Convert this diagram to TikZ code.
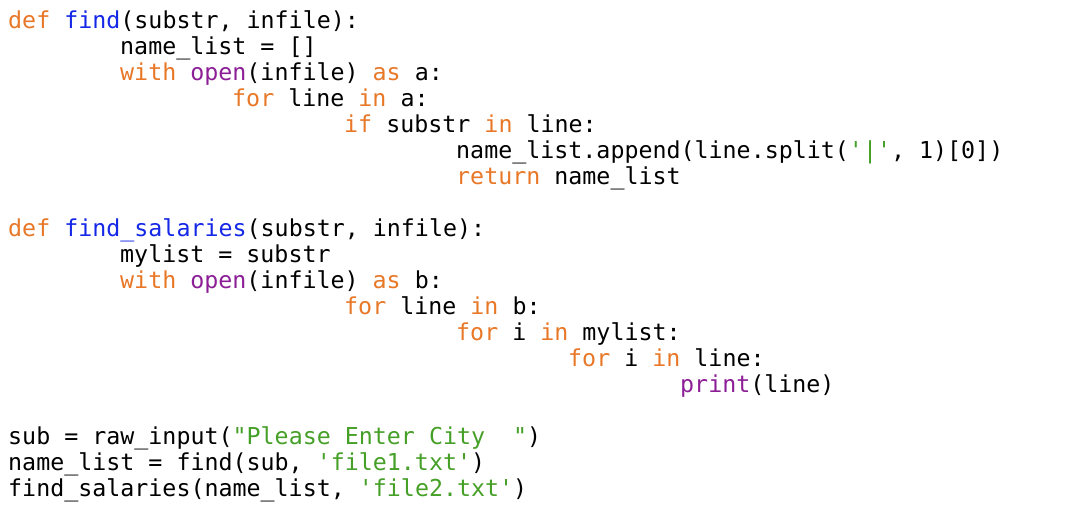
\documentclass[tikz,border=0pt]{standalone}
\usepackage{fontspec}
\newfontfamily\codefont{DejaVu Sans Mono}
\definecolor{kw}{RGB}{232,120,40}
\definecolor{fn}{RGB}{20,40,230}
\definecolor{bi}{RGB}{140,30,150}
\definecolor{st}{RGB}{70,160,40}
\newcommand\K[1]{\textcolor{kw}{#1}}
\newcommand\F[1]{\textcolor{fn}{#1}}
\newcommand\B[1]{\textcolor{bi}{#1}}
\newcommand\Q[1]{\textcolor{st}{#1}}
\begin{document}
\begin{tikzpicture}[x=1pt,y=1pt,
  code/.style={anchor=base west,inner sep=0pt,font=\codefont\fontsize{23.3}{26}\selectfont}]
\useasboundingbox (0,0) rectangle (1070,-530);
\def\L#1#2#3{\node[code] (l#1) at (8+14*#2,-28-26*#1) {#3};}
\L{0}{0}{\K{def} \F{find}(substr, infile):}
\L{1}{8}{name\_list = []}
\L{2}{8}{\K{with} \B{open}(infile) \K{as} a:}
\L{3}{16}{\K{for} line \K{in} a:}
\L{4}{24}{\K{if} substr \K{in} line:}
\L{5}{32}{name\_list.append(line.split(\Q{'|'}, 1)[0])}
\L{6}{32}{\K{return} name\_list}
\L{8}{0}{\K{def} \F{find\_salaries}(substr, infile):}
\L{9}{8}{mylist = substr}
\L{10}{8}{\K{with} \B{open}(infile) \K{as} b:}
\L{11}{24}{\K{for} line \K{in} b:}
\L{12}{32}{\K{for} i \K{in} mylist:}
\L{13}{40}{\K{for} i \K{in} line:}
\L{14}{48}{\B{print}(line)}
\L{16}{0}{sub = raw\_input(\Q{"Please Enter City\ \ "})}
\L{17}{0}{name\_list = find(sub, \Q{'file1.txt'})}
\L{18}{0}{find\_salaries(name\_list, \Q{'file2.txt'})}
\end{tikzpicture}
\end{document}
